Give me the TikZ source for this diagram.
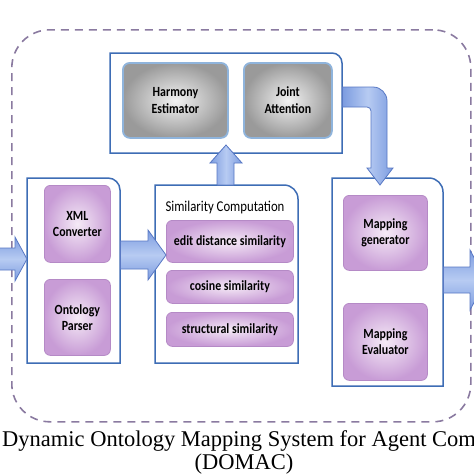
\documentclass[tikz,border=0pt]{standalone}
\usepackage{fontspec}
\setmainfont{Liberation Serif}
\newfontfamily\diag[FakeStretch=0.85]{Carlito}
\usetikzlibrary{calc}
\definecolor{boxblue}{HTML}{3E6DB5}
\definecolor{dashc}{HTML}{8A7AA0}
\definecolor{pinkin}{HTML}{F5EAF6}
\definecolor{pinkout}{HTML}{C89CD6}
\definecolor{pinkline}{HTML}{B58AC6}
\definecolor{grayin}{HTML}{F2F2F2}
\definecolor{grayout}{HTML}{9A9A9A}
\definecolor{halo}{HTML}{8FB4DC}
\definecolor{arrin}{HTML}{B7CBF2}
\definecolor{arrout}{HTML}{7C9CE0}
\definecolor{arrline}{HTML}{5878C4}
\tikzset{
  container/.style={draw=boxblue, line width=1.5pt, fill=white},
  pinkbox/.style={draw=pinkline, line width=0.8pt, rounded corners=6pt,
    inner color=pinkin, outer color=pinkout, font=\diag\bfseries\fontsize{14}{15}\selectfont,
    align=center, inner sep=0pt},
  graybox/.style={draw=halo, line width=1.8pt, rounded corners=7pt,
    inner color=grayin, outer color=grayout, font=\diag\bfseries\fontsize{14}{16}\selectfont,
    align=center, inner sep=0pt},
  fatarrow/.style={draw=arrline, line width=0.8pt, top color=arrout, bottom color=arrout,
    middle color=arrin},
  vfatarrow/.style={draw=arrline, line width=0.8pt, left color=arrout, right color=arrout,
    middle color=arrin},
  captext/.style={font=\fontsize{22.5}{26}\selectfont, inner sep=0pt},
}
\begin{document}
\begin{tikzpicture}[x=1pt,y=-1pt]
\useasboundingbox (0,0) rectangle (474,474);
% outer dashed frame
\node[draw=dashc, line width=1.6pt, dash pattern=on 8pt off 6pt, rounded corners=38pt,
  minimum width=459pt, minimum height=392pt, anchor=north west] (frame) at (11,29) {};
% containers
\path[container] (110,153) -- (110,53) -- (332,53) arc[start angle=90, end angle=0, radius=10pt] -- (342,153) -- cycle;
\node[minimum width=232pt, minimum height=100pt, anchor=north west, inner sep=0pt] (topbox) at (110,53) {};
\path[container] (27,363) -- (27,178) -- (108,178) arc[start angle=90, end angle=0, radius=12pt] -- (120,363) -- cycle;
\node[minimum width=93pt, minimum height=185pt, anchor=north west, inner sep=0pt] (leftbox) at (27,178) {};
\path[container] (155,363) -- (155,185) -- (284,185) arc[start angle=90, end angle=0, radius=14pt] -- (298,363) -- cycle;
\node[minimum width=143pt, minimum height=178pt, anchor=north west, inner sep=0pt] (simbox) at (155,185) {};
\path[container] (332,386) -- (332,178) -- (429,178) arc[start angle=90, end angle=0, radius=14pt] -- (443,386) -- cycle;
\node[minimum width=111pt, minimum height=208pt, anchor=north west, inner sep=0pt] (rightbox) at (332,178) {};
% gray boxes
\node[graybox, minimum width=105pt, minimum height=75pt, anchor=north west] (harmony) at (122,62) {Harmony\\[1pt]Estimator};
\node[graybox, minimum width=88pt, minimum height=75pt, anchor=north west] (joint) at (243,62) {Joint\\[1pt]Attention};
% left pink boxes
\node[pinkbox, minimum width=66pt, minimum height=77pt, anchor=north west] (xml) at (44,185) {XML\\[1pt]Converter};
\node[pinkbox, minimum width=66pt, minimum height=76pt, anchor=north west] (parser) at (44,279) {Ontology\\[1pt]Parser};
% similarity
\node[font=\diag\fontsize{15}{16}\selectfont, anchor=base] (simtitle) at (225,211) {Similarity Computation};
\node[pinkbox, minimum width=127pt, minimum height=42pt, anchor=north west] (edit) at (166,220) {edit distance similarity};
\node[pinkbox, minimum width=127pt, minimum height=33pt, anchor=north west] (cosine) at (166,270) {cosine similarity};
\node[pinkbox, minimum width=127pt, minimum height=34pt, anchor=north west] (struct) at (166,312) {structural similarity};
% right pink boxes
\node[pinkbox, minimum width=84pt, minimum height=75pt, anchor=north west] (gen) at (343,195) {Mapping\\[1pt]generator};
\node[pinkbox, minimum width=84pt, minimum height=77pt, anchor=north west] (eval) at (343,303) {Mapping\\[1pt]Evaluator};
% free ends
\coordinate (in) at (0,259);
\coordinate (out) at (486,280);
% arrow: input -> leftbox
\path[fatarrow] ($(in)+(-2,-11)$) -- (15,248) -- (15,237) -- (leftbox.west |- 0,259) -- (15,281) -- (15,270) -- ($(in)+(-2,11)$) -- cycle;
% arrow: leftbox -> edit
\path[fatarrow] (leftbox.east |- 0,241) -- (148,241) -- (148,230) -- (edit.west |- 0,255) -- (148,280) -- (148,269) -- (leftbox.east |- 0,269) -- cycle;
% arrow: simbox -> topbox
\path[vfatarrow] (217,185) -- (217,163) -- (210,163) -- (226,145) -- (242,163) -- (234,163) -- (234,185) -- cycle;
% bent arrow: topbox -> rightbox
\path[vfatarrow] (topbox.east |- 0,87) [rounded corners=14pt] -- (387,87) [sharp corners] -- (387,168) -- (393,168) -- (380,185) -- (367,168) -- (371,168) [rounded corners=4pt] -- (371,107) [sharp corners] -- (topbox.east |- 0,107) -- cycle;
% arrow: rightbox -> out
\path[fatarrow] (rightbox.east |- 0,267) -- (470,267) -- (470,250) -- (out) -- (470,310) -- (470,293) -- (rightbox.east |- 0,293) -- cycle;
% caption
\node[captext, anchor=base west] (cap1) at (2,446) {Dynamic Ontology Mapping System for Agent Com};
\node[captext, anchor=base] (cap2) at (244,469) {(DOMAC)};
\end{tikzpicture}
\end{document}
